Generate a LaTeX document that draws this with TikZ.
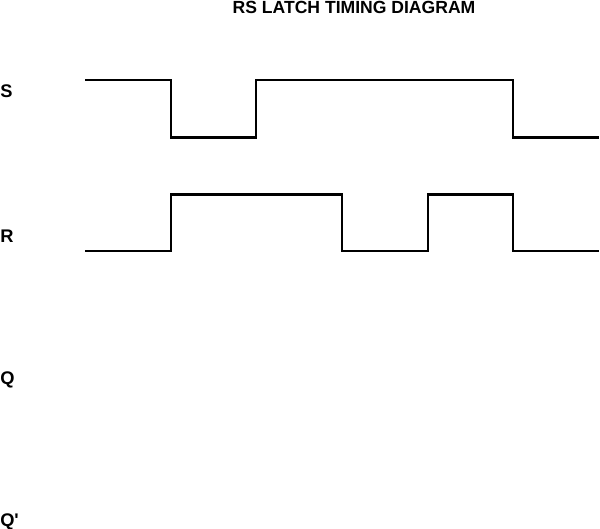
\documentclass[tikz,border=0pt]{standalone}
\usepackage{fontspec}
\setmainfont{Liberation Sans}
\usetikzlibrary{positioning}
\tikzset{
  heading/.style={font=\bfseries\fontsize{12.5}{14}\selectfont, inner sep=0pt, anchor=base},
  siglabel/.style={font=\bfseries\fontsize{13}{15}\selectfont, inner sep=0pt, anchor=base west},
  wave/.style={draw, line width=1.6pt, line join=miter}
}
\begin{document}
\begin{tikzpicture}
  \useasboundingbox (0,0) rectangle (15,-13.225);
  \node[heading] (title) at (8.85,-0.33) {RS LATCH TIMING DIAGRAM};
  % signal names
  \node[siglabel] (lblS) at (0,-2.45) {S};
  \node[siglabel] (lblR) at (0,-6.075) {R};
  \node[siglabel] (lblQ) at (0,-9.62) {Q};
  \node[siglabel] (lblQn) at (0,-13.17) {Q\textquotesingle};
  % S input
  \draw[wave] (2.125,-2.0) -| (4.275,-3.4375) -| (6.4,-2.0) -| (12.825,-3.4375) -- (14.975,-3.4375);
  % R input
  \draw[wave] (2.125,-6.28) -| (4.275,-4.86) -| (8.55,-6.28) -| (10.7,-4.86) -| (12.825,-6.28) -- (14.975,-6.28);
\end{tikzpicture}
\end{document}
